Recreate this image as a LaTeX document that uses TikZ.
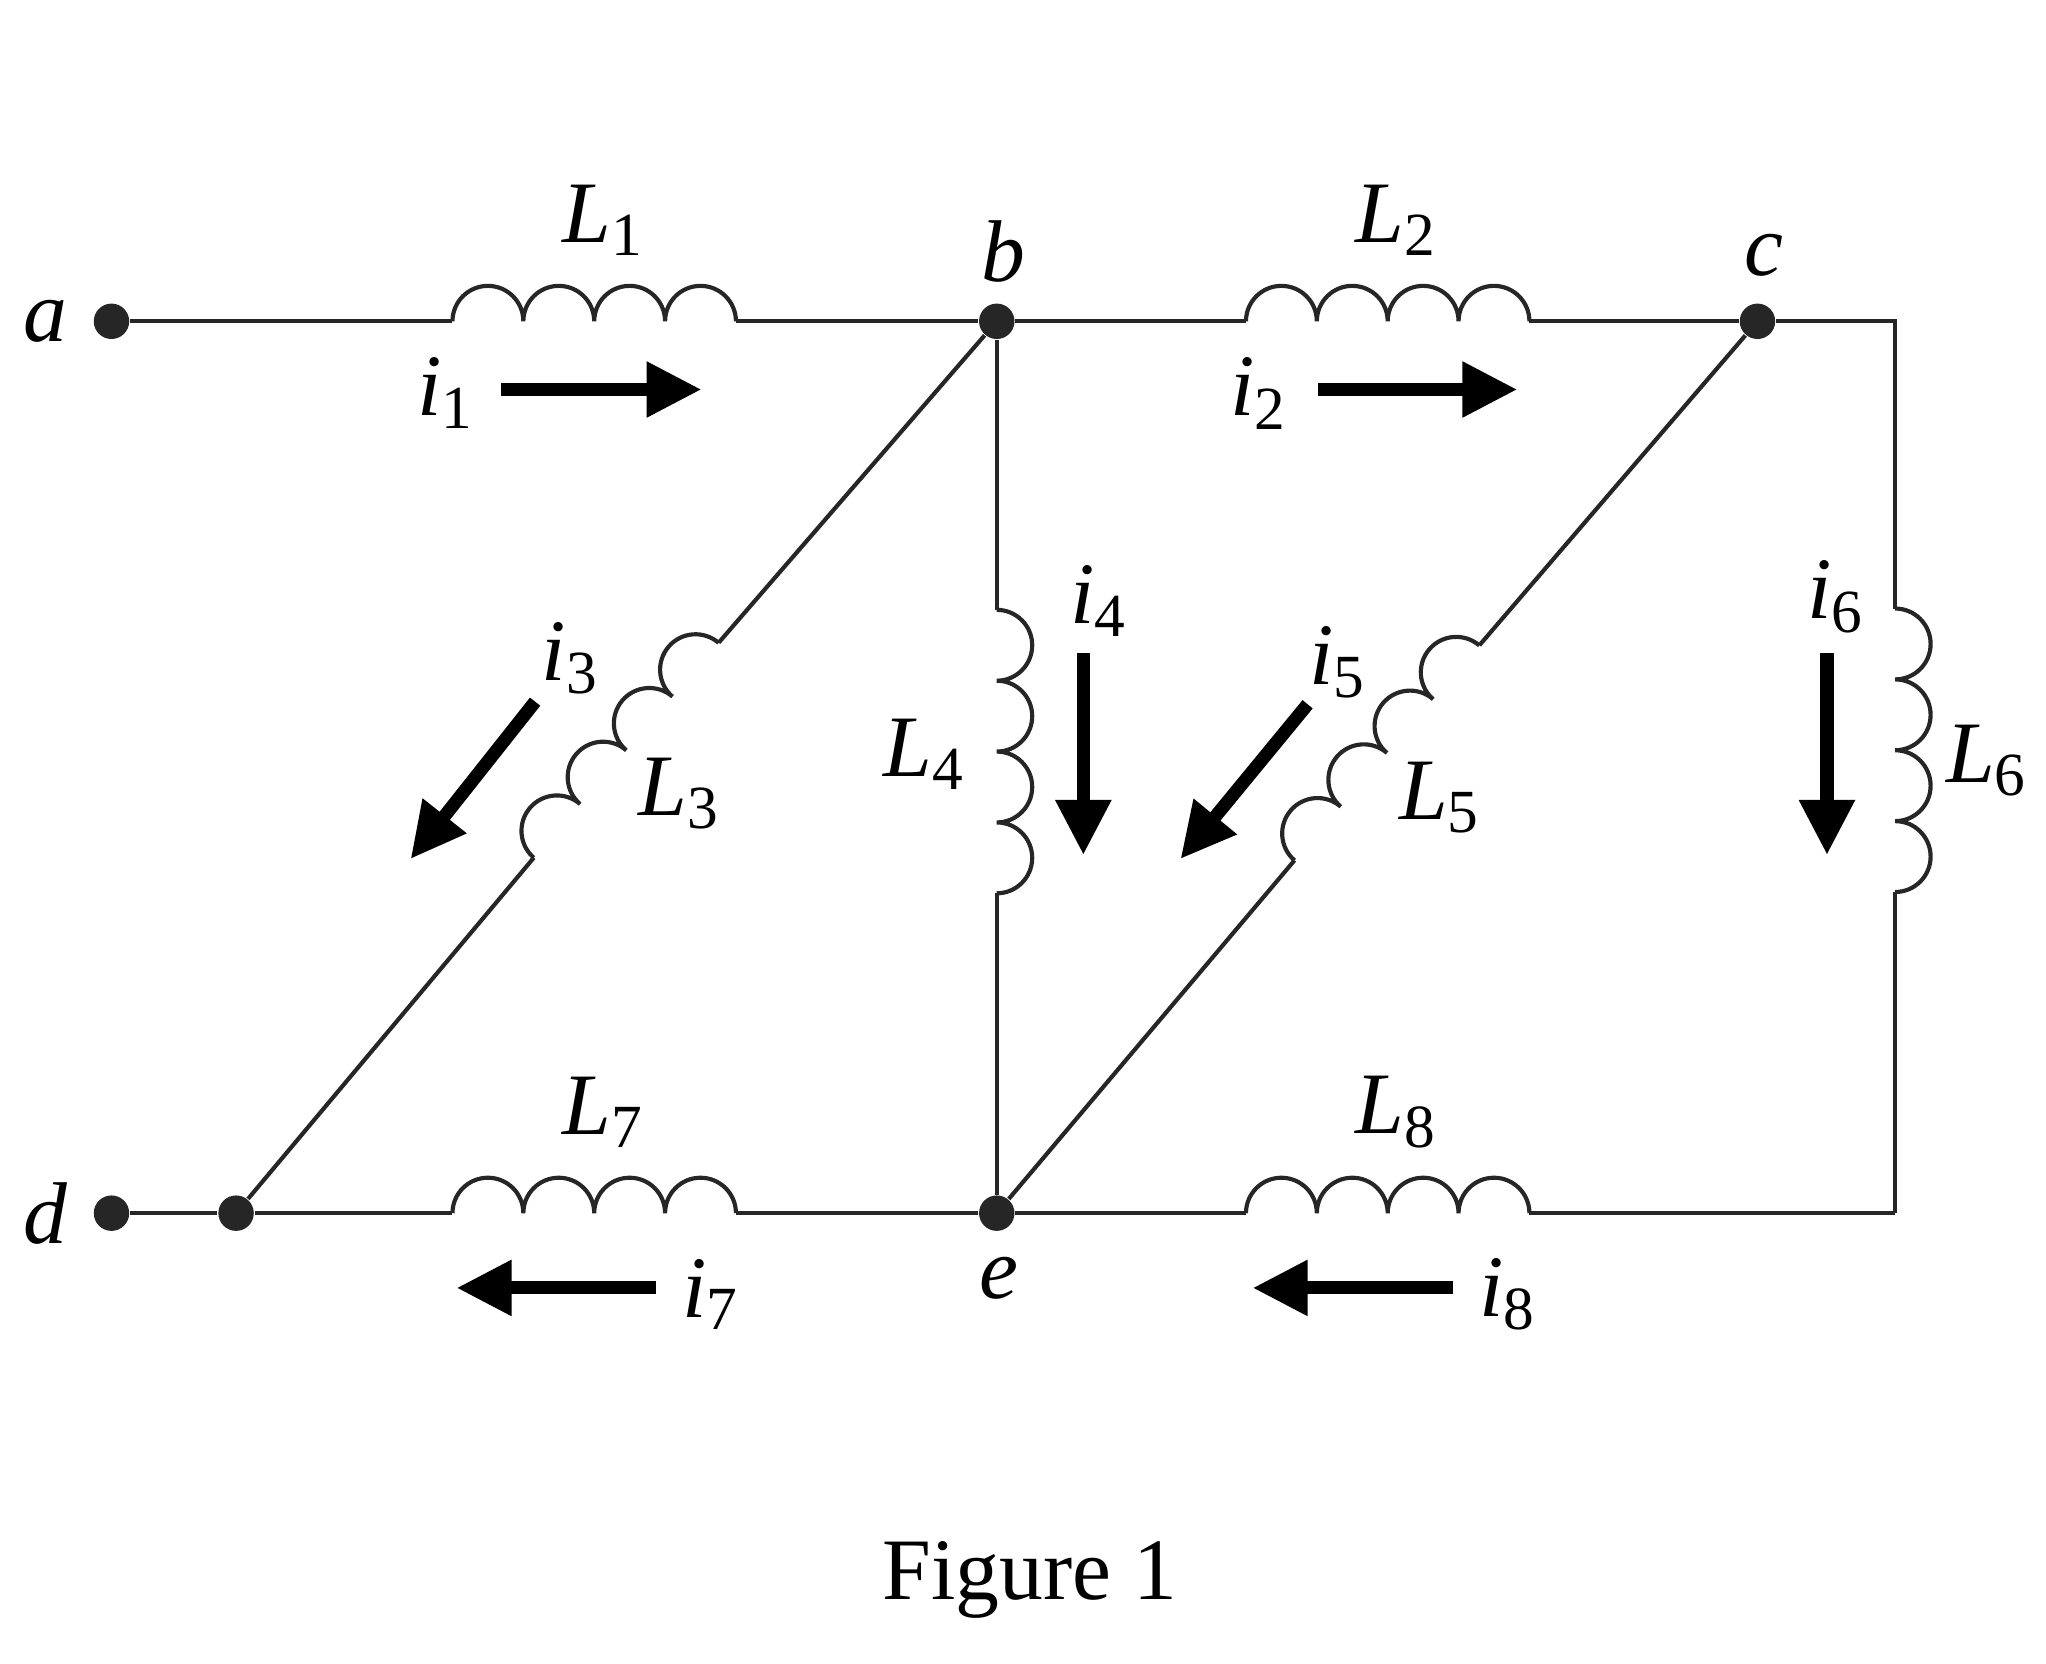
\documentclass[tikz,border=0pt]{standalone}
\usepackage{fontspec}
\setmainfont{Liberation Serif}
\usetikzlibrary{arrows.meta}
\newcommand\lab[2]{\textit{#1}\textsubscript{#2}}
\newcommand\coilseg[2]{\begin{scope}[shift={#1},rotate=#2]
\draw[wire] (0,0) arc(180:0:0.27cm) arc(180:0:0.27cm) arc(180:0:0.27cm) arc(180:0:0.27cm);
\end{scope}}
\begin{document}
\begin{tikzpicture}[x=0.01cm,y=0.01cm,
 wire/.style={line width=0.9pt,black!85},
 dot/.style={circle,fill=black!85,inner sep=0pt,minimum size=0.27cm},
 cur/.style={line width=0.1cm,-{Triangle[length=0.42cm,width=0.4cm]}},
 lbl/.style={font=\fontsize{19}{21}\selectfont,inner sep=1pt}]
\useasboundingbox (0,0) rectangle (1560,-1268);
\node[dot] (a) at (85,-245) {};
\node[dot] (b) at (760,-245) {};
\node[dot] (c) at (1340,-245) {};
\coordinate (tr) at (1445,-245);
\node[dot] (d) at (85,-925) {};
\node[dot] (dd) at (180,-925) {};
\node[dot] (e) at (760,-925) {};
\coordinate (br) at (1445,-925);
% horizontal top
\coordinate (l1a) at (345,-245); \coordinate (l1b) at (561,-245);
\coordinate (l2a) at (950,-245); \coordinate (l2b) at (1166,-245);
\draw[wire] (a)--(l1a) (l1b)--(b)--(l2a) (l2b)--(c)--(tr)--(1445,-464);
\coilseg{(l1a)}{0}
\coilseg{(l2a)}{0}
% L6
\coilseg{(1445,-464)}{-90}
\draw[wire] (1445,-680)--(br);
% bottom
\coordinate (l7a) at (345,-925); \coordinate (l7b) at (561,-925);
\coordinate (l8a) at (950,-925); \coordinate (l8b) at (1166,-925);
\draw[wire] (d)--(dd)--(l7a) (l7b)--(e)--(l8a) (l8b)--(br);
\coilseg{(l7a)}{0}
\coilseg{(l8a)}{0}
% L4
\draw[wire] (b)--(760,-465) (760,-681)--(e);
\coilseg{(760,-465)}{-90}
% L3
\draw[wire] (b)--(548,-490) (407,-654)--(dd);
\coilseg{(407,-654)}{49.3}
% L5
\draw[wire] (c)--(1128,-492) (987,-656)--(e);
\coilseg{(987,-656)}{49.3}
% arrows
\draw[cur] (382,-297)--(535,-297);
\draw[cur] (1005,-297)--(1157,-297);
\draw[cur] (500,-982)--(348,-982);
\draw[cur] (1108,-982)--(955,-982);
\draw[cur] (826,-498)--(826,-652);
\draw[cur] (1393,-498)--(1393,-652);
\draw[cur] (408,-535)--(313,-655);
\draw[cur] (997,-537)--(900,-655);
% labels
\node[lbl] (ta) at (35,-245) {\textit{a}};
\node[lbl] (tb) at (765,-192) {\textit{b}};
\node[lbl] (tc) at (1345,-195) {\textit{c}};
\node[lbl] (td) at (35,-925) {\textit{d}};
\node[lbl] (te) at (762,-975) {\textit{e}};
\node[lbl] (tL1) at (460,-168) {\lab{L}{1}};
\node[lbl] (tL2) at (1065,-168) {\lab{L}{2}};
\node[lbl] (tL3) at (518,-605) {\lab{L}{3}};
\node[lbl] (tL4) at (705,-575) {\lab{L}{4}};
\node[lbl] (tL5) at (1098,-608) {\lab{L}{5}};
\node[lbl] (tL6) at (1515,-580) {\lab{L}{6}};
\node[lbl] (tL7) at (460,-848) {\lab{L}{7}};
\node[lbl] (tL8) at (1065,-848) {\lab{L}{8}};
\node[lbl] (ti1) at (340,-300) {\lab{i}{1}};
\node[lbl] (ti2) at (960,-300) {\lab{i}{2}};
\node[lbl] (ti3) at (435,-502) {\lab{i}{3}};
\node[lbl] (ti4) at (838,-458) {\lab{i}{4}};
\node[lbl] (ti5) at (1020,-505) {\lab{i}{5}};
\node[lbl] (ti6) at (1400,-455) {\lab{i}{6}};
\node[lbl] (ti7) at (542,-987) {\lab{i}{7}};
\node[lbl] (ti8) at (1150,-987) {\lab{i}{8}};
\node[lbl] (fig) at (785,-1205) {Figure 1};
\end{tikzpicture}
\end{document}
